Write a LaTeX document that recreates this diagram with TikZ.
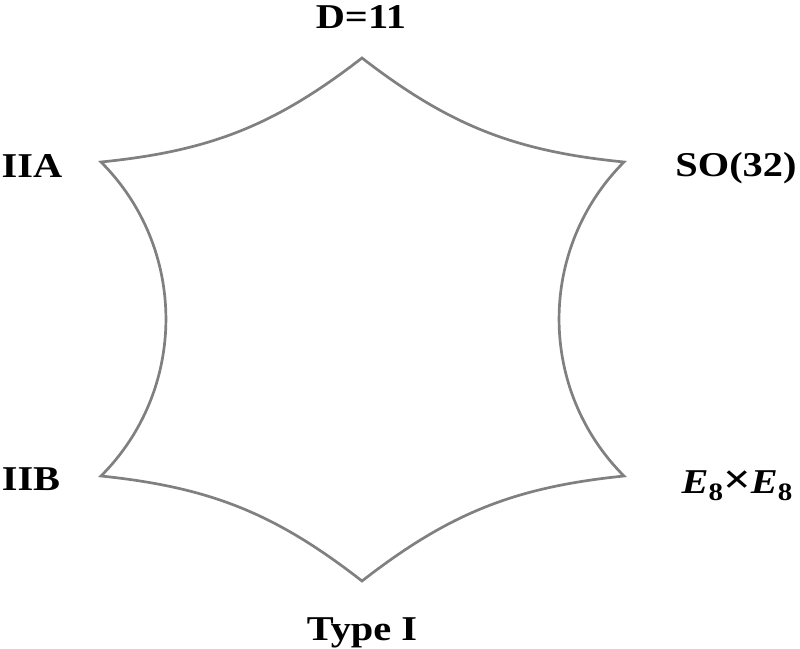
\documentclass[tikz,border=0pt]{standalone}
\usepackage{fontspec}
\setmainfont{Liberation Serif}
\newcommand{\wide}[1]{\scalebox{1.16}[1]{#1}}
\newcommand{\eight}{\raisebox{-3.5pt}{\fontsize{12.5}{13}\selectfont 8}}
\newcommand{\cross}{{\fontsize{21}{22}\selectfont ×}}
\begin{document}
\begin{tikzpicture}[x=0.5pt,y=-0.5pt,
	theory/.style={anchor=base,inner sep=0pt,font=\fontsize{17.4}{20}\selectfont\bfseries},
	web/.style={draw=black!50,line width=1.35pt}]
	\useasboundingbox (0,0) rectangle (800,649);
	\coordinate	(T)		at (362,58);
	\coordinate	(UL)	at (101,162);
	\coordinate	(LL)	at (101,476);
	\coordinate	(B)		at (362,581);
	\coordinate	(LR)	at (624,476);
	\coordinate	(UR)	at (624,162);
	\node[theory]	(d11)	at (361,28)		{\wide{D=11}};
	\node[theory]	(iia)	at (32,177)		{\wide{IIA}};
	\node[theory]	(so32)	at (736,176)	{\wide{SO(32)}};
	\node[theory]	(iib)	at (31,490)		{\wide{IIB}};
	\node[theory]	(e8e8)	at (737,493)	{\wide{\textit{E}\eight\cross\textit{E}\eight}};
	\node[theory]	(typei)	at (362,640)	{\wide{Type I}};
	\path[web]
	(T) to[bend left=16] (UL)
	to[bend left=45] (LL)
	to[bend left=16] (B)
	to[bend left=16] (LR)
	to[bend left=45] (UR)
	to[bend left=16] cycle
	;
\end{tikzpicture}
\end{document}
